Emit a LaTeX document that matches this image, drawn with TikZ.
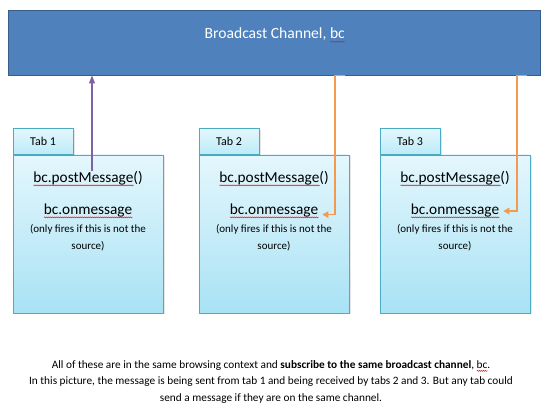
\documentclass[tikz,border=0pt]{standalone}
\usepackage{fontspec}
\setmainfont{Carlito}
\usetikzlibrary{positioning, calc, arrows.meta, shadows, decorations.pathmorphing}

\definecolor{channelblue}{HTML}{4F81BD}
\definecolor{channeledge}{HTML}{385D8A}
\definecolor{tabedge}{HTML}{4BACC6}
\definecolor{tabtop}{HTML}{E4F7FD}
\definecolor{tabbottom}{HTML}{A8E2F4}
\definecolor{labelbottom}{HTML}{BDEBF8}
\definecolor{sendpurple}{HTML}{7F63A1}
\definecolor{recvorange}{HTML}{F39A4E}
\definecolor{spellred}{HTML}{E0201B}

% wavy spell-check mark under a word
\newsavebox{\spellbox}
\newcommand{\spellmark}[1]{\sbox{\spellbox}{#1}\rlap{\tikz[baseline=0pt]\draw[spellred, line width=0.5pt, decorate, decoration={zigzag, segment length=2pt, amplitude=0.5pt}] (0pt,-2.8pt) -- (\wd\spellbox,-2.8pt);}\usebox{\spellbox}}

\begin{document}
\begin{tikzpicture}[
        x=1pt, y=1pt,
        channel/.style={rectangle, draw=channeledge, fill=channelblue, line width=0.9pt, minimum width=532pt, minimum height=65pt},
        tabbox/.style={rectangle, draw=tabedge, top color=tabtop, bottom color=tabbottom, line width=0.8pt, minimum width=150pt, minimum height=158pt, drop shadow={opacity=0.2, shadow xshift=1.5pt, shadow yshift=-1.5pt}},
        tablabel/.style={rectangle, draw=tabedge, top color=tabtop, bottom color=labelbottom, line width=0.8pt, minimum width=60pt, minimum height=26pt, inner sep=0pt, font=\fontsize{12}{14}\selectfont, drop shadow={opacity=0.2, shadow xshift=1.5pt, shadow yshift=-1.5pt}},
        calltext/.style={inner sep=0pt, font=\fontsize{15.3}{18}\selectfont},
        note/.style={inner sep=0pt, align=center, font=\fontsize{11}{17}\selectfont},
        sendarrow/.style={color=sendpurple, line width=1.1pt, -{Triangle[width=6pt,length=8pt]}},
        recvarrow/.style={color=recvorange, line width=1.6pt, -{Triangle[width=6.5pt,length=6pt]}}
    ]
    \useasboundingbox (0,0) rectangle (552,414);

    % Broadcast channel
    \node [channel] (bc) at (274.75,371.5) {};
    \node [text=white, font=\fontsize{15.6}{18}\selectfont, anchor=base] (title) at (274.75,375) {Broadcast Channel, \spellmark{bc}};

    % Tabs
    \node [tabbox] (box1) at (88,180) {};
    \node [tabbox] (box2) at (274,180) {};
    \node [tabbox] (box3) at (455,180) {};
    \node [tablabel, above right=0pt and 0pt of box1.north west] (tab1) {Tab 1};
    \node [tablabel, above right=0pt and 0pt of box2.north west] (tab2) {Tab 2};
    \node [tablabel, above right=0pt and 0pt of box3.north west] (tab3) {Tab 3};

    % Tab contents
    \node [calltext, anchor=base] (post1) at ($(box1.north)+(0,-28)$) {\spellmark{bc.postMessage}()};
    \node [calltext, anchor=base] (on1) at ($(box1.north)+(0,-60)$) {\spellmark{bc.onmessage}};
    \node [note, anchor=north] (note1) at ($(box1.north)+(0,-70)$) {(only fires if this is not the\\ source)};

    \node [calltext, anchor=base] (post2) at ($(box2.north)+(0,-28)$) {\spellmark{bc.postMessage}()};
    \node [calltext, anchor=base] (on2) at ($(box2.north)+(0,-60)$) {\spellmark{bc.onmessage}};
    \node [note, anchor=north] (note2) at ($(box2.north)+(0,-70)$) {(only fires if this is not the\\ source)};

    \node [calltext, anchor=base] (post3) at ($(box3.north)+(0,-28)$) {\spellmark{bc.postMessage}()};
    \node [calltext, anchor=base] (on3) at ($(box3.north)+(0,-60)$) {\spellmark{bc.onmessage}};
    \node [note, anchor=north] (note3) at ($(box3.north)+(0,-70)$) {(only fires if this is not the\\ source)};

    % Message flow
    \draw [sendarrow] ([xshift=4pt]post1.north) -- ([xshift=4pt]post1.north |- bc.south);
    \draw [recvarrow] ([xshift=70.5pt]bc.south) -- ++(-10,0) |- ([xshift=4pt]on2.base east);
    \draw [recvarrow] ([xshift=252.5pt]bc.south) -- ++(-10,0) |- ([xshift=4pt]on3.east);

    % Caption
    \node [align=center, inner sep=0pt, font=\fontsize{11.3}{16.5}\selectfont, anchor=north] (caption) at (271,54)
        {All of these are in the same browsing context and \textbf{subscribe to the same broadcast channel}, \spellmark{bc}.\\
         In this picture, the message is being sent from tab 1 and being received by tabs 2 and 3. But any tab could\\
         send a message if they are on the same channel.};

\end{tikzpicture}
\end{document}
